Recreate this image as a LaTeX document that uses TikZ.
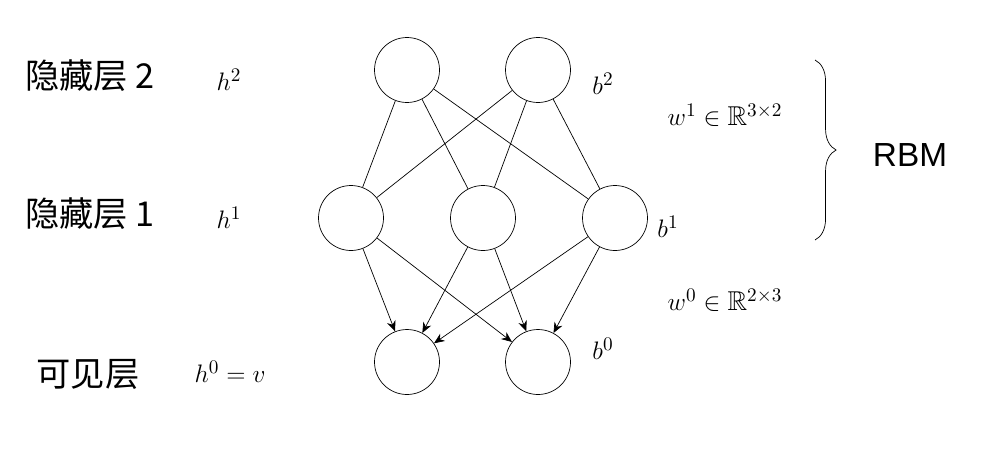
\documentclass[tikz,border=0pt]{standalone}
\usepackage{amssymb}
\usepackage{fontspec}
\setmainfont{Liberation Sans}
\newfontfamily\cjk{Noto Sans CJK SC}
\usetikzlibrary{decorations.pathreplacing,arrows.meta}
\begin{document}
\begin{tikzpicture}[x=0.02cm,y=-0.02cm,
  neuron/.style={circle,draw,minimum size=1.3cm,inner sep=0pt},
  lbl/.style={font=\cjk\fontsize{19.5}{22}\selectfont},
  mth/.style={font=\fontsize{15.5}{18}\selectfont},
  arr/.style={-{Stealth[length=6pt,width=5pt]}}]
\useasboundingbox (0,0) rectangle (1000,457);
\node[neuron] (t1) at (407,70) {};
\node[neuron] (t2) at (538,70) {};
\node[neuron] (m1) at (351,218) {};
\node[neuron] (m2) at (483,218) {};
\node[neuron] (m3) at (615,218) {};
\node[neuron] (v1) at (407,362) {};
\node[neuron] (v2) at (538,362) {};
\foreach \t in {t1,t2}\foreach \m in {m1,m2,m3} \draw (\t) -- (\m);
\foreach \m in {m1,m2,m3}\foreach \v in {v1,v2} \draw[arr] (\m) -- (\v);
\node[lbl] (L2) at (90,76) {隐藏层 2};
\node[lbl] (L1) at (90,214) {隐藏层 1};
\node[lbl] (L0) at (88,374) {可见层};
\node[mth] (h2) at (229,80) {$h^2$};
\node[mth] (h1) at (229,218) {$h^1$};
\node[mth] (h0) at (230,372) {$h^0=v$};
\node[mth] (b2) at (603,84) {$b^2$};
\node[mth] (b1) at (668,227) {$b^1$};
\node[mth] (b0) at (603,349) {$b^0$};
\node[mth] (w1) at (725,115) {$w^1\in\mathbb{R}^{3\times2}$};
\node[mth] (w0) at (725,300) {$w^0\in\mathbb{R}^{2\times3}$};
\coordinate (bt) at (815,60);
\coordinate (bb) at (815,240);
\draw[decorate,decoration={brace,amplitude=12pt}] (bt) -- (bb);
\node[font=\fontsize{19}{21}\selectfont] (rbm) at (910,155) {RBM};
\end{tikzpicture}
\end{document}
